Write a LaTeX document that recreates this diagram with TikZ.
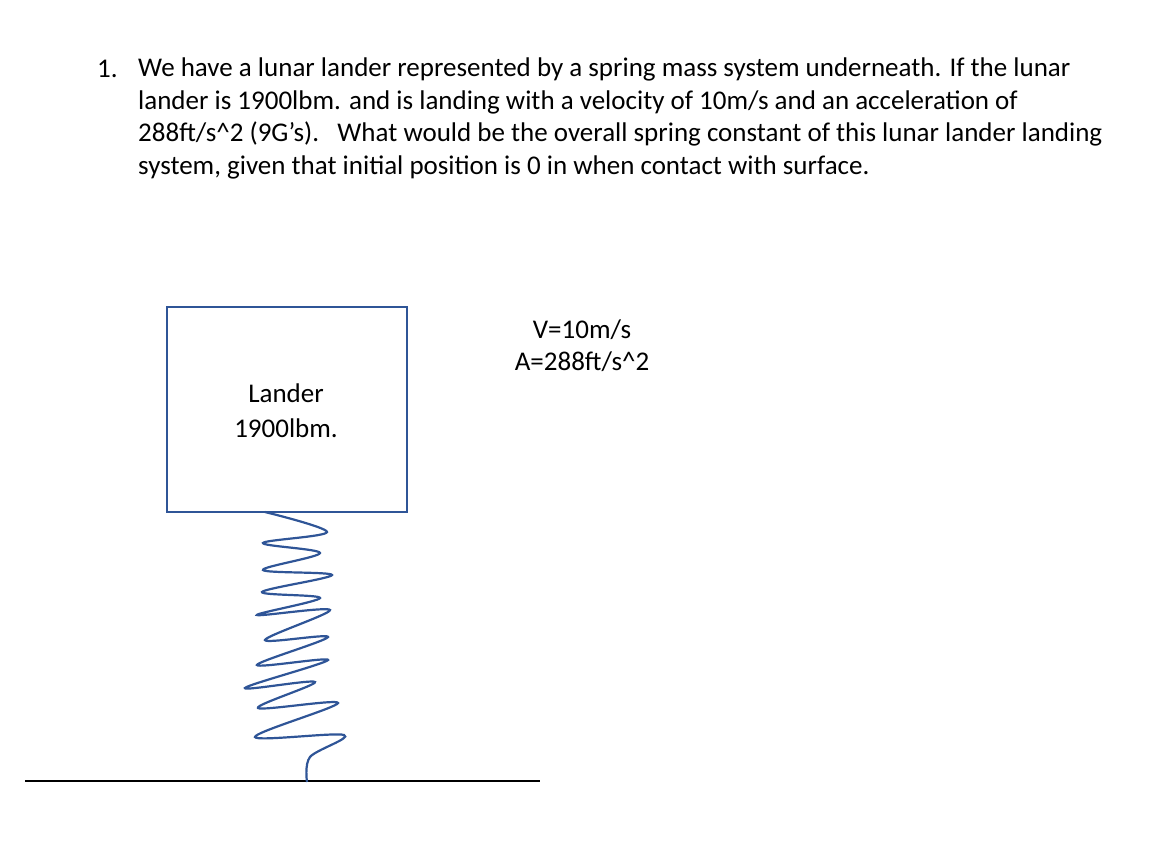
\documentclass[tikz,border=0pt]{standalone}
\usepackage{fontspec}
\setmainfont{Carlito}
\definecolor{bl}{HTML}{2F5597}
\begin{document}
\begin{tikzpicture}[x=1pt,y=-1pt,
  txt/.style={inner sep=0pt,font=\fontsize{27}{32.5}\selectfont},
  lbl/.style={inner sep=0pt,font=\fontsize{27}{32.5}\selectfont,anchor=center}]
\useasboundingbox (0,0) rectangle (1154,862);
\node[txt,anchor=base west] (num) at (97,77) {1.};
\node[txt,anchor=base west,align=left] (q) at (138,174) {We have a lunar lander represented by a spring mass system underneath. If the lunar\\
lander is 1900lbm. and is landing with a velocity of 10m/s and an acceleration of\\
288ft/s\textasciicircum2 (9G’s).\ \ \ What would be the overall spring constant of this lunar lander landing\\
system, given that initial position is 0 in when contact with surface.};
\node[draw=bl,line width=2pt,minimum width=240pt,minimum height=205pt,anchor=north west] (box) at (166,306) {};
\node[lbl] (l1) at (286,393) {Lander};
\node[lbl] (l2) at (286,428) {1900lbm.};
\node[lbl] (v) at (582,330) {V=10m/s};
\node[lbl] (a) at (582,362) {A=288ft/s\textasciicircum2};
\coordinate (gl) at (25,781);
\coordinate (gr) at (540,781);
\draw[line width=1.3pt] (gl) -- (gr);
\draw[bl,line width=2.2pt] plot[smooth,tension=0.55] coordinates {
(265,512)(327,532)(263,543)(320,553)(263,570)(332,575)(262,592)(320,598)(257,615)(330,610)(265,640)(328,637)(257,665)(328,660)(245,688)(315,682)(258,708)(338,703)(255,737)(344,735)(310,757)(307,782)};
\end{tikzpicture}
\end{document}
